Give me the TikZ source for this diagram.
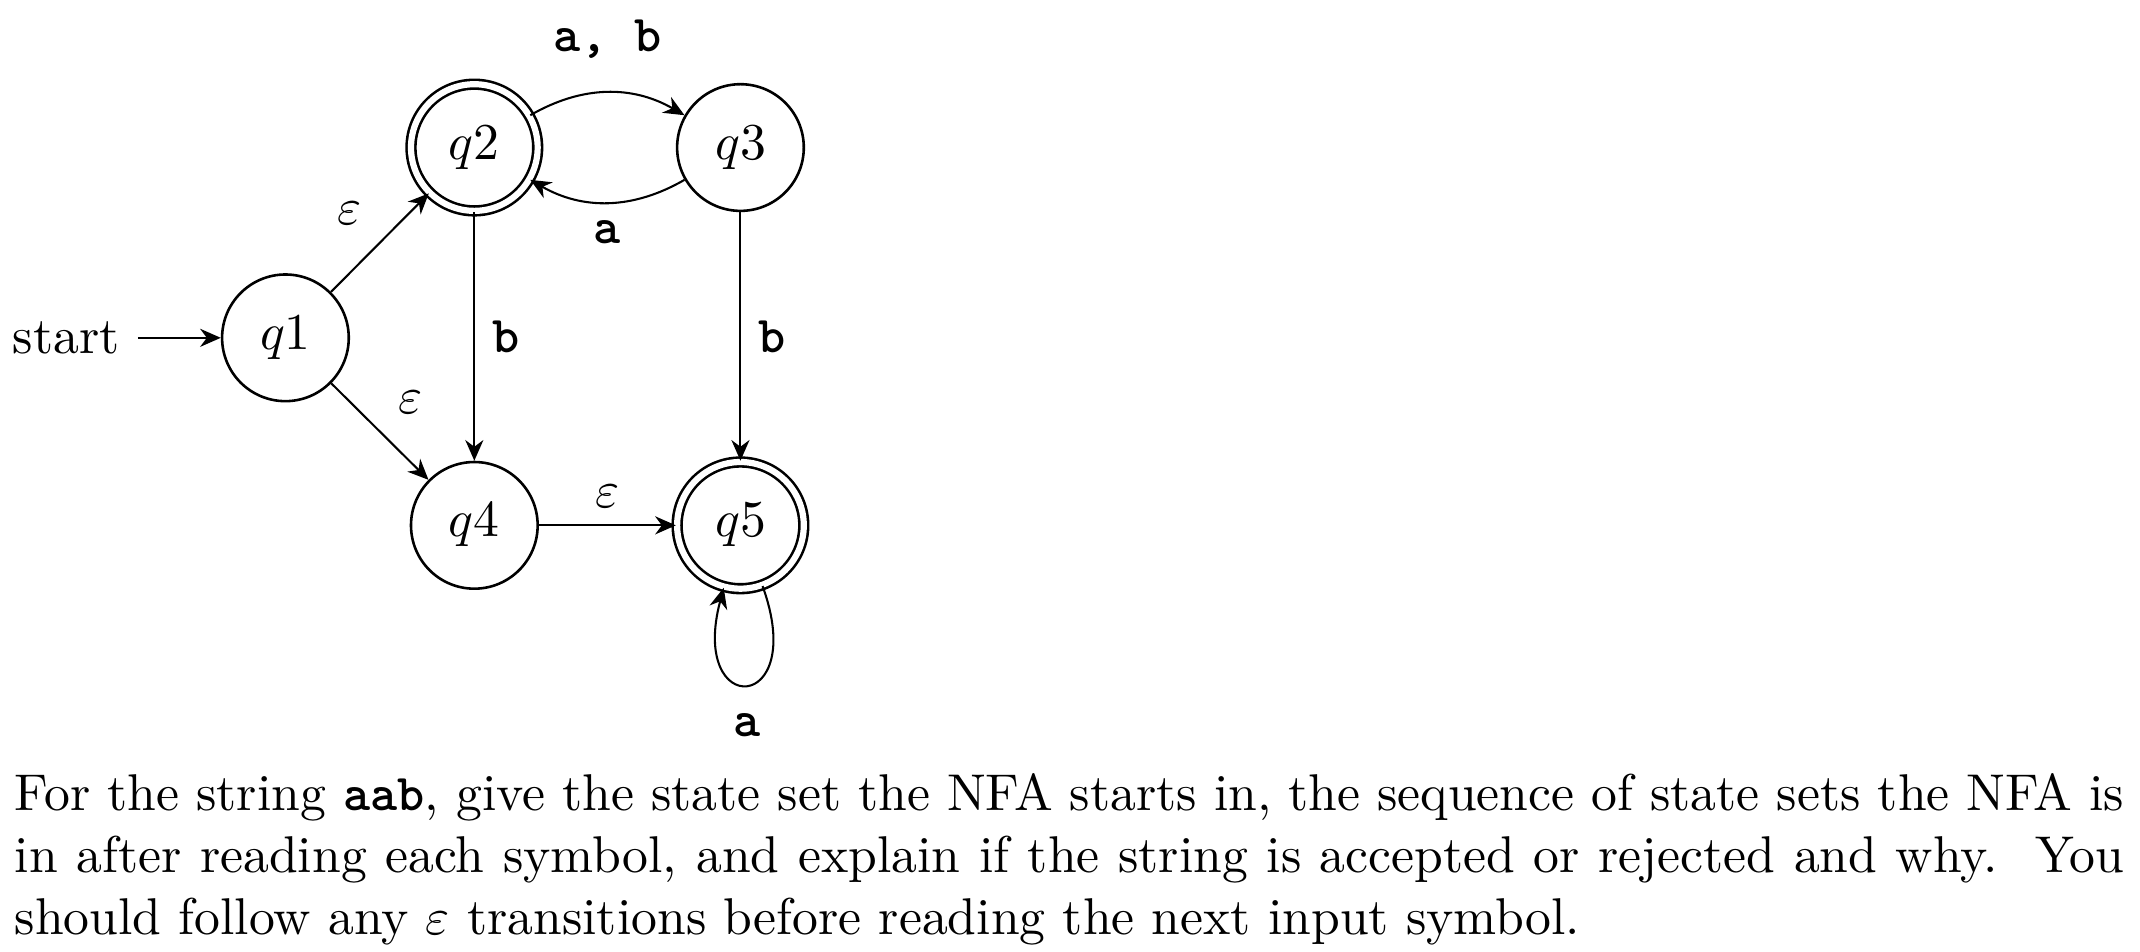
\documentclass[tikz,border=0pt]{standalone}
\usetikzlibrary{automata,arrows.meta}
\begin{document}
\begin{tikzpicture}[x=0.2667pt,y=-0.2667pt,
  st/.style={circle,draw,minimum size=24.5pt,inner sep=0pt,font=\normalsize,line width=0.5pt},
  acc/.style={st,double,double distance=1.2pt},
  tr/.style={-{Stealth[length=4pt,width=3.5pt]},line width=0.4pt},
  lb/.style={font=\normalsize\ttfamily\bfseries}]
\useasboundingbox (0,0) rectangle (1552,690);
\node[st] (q1) at (207,245) {$q1$};
\node[acc] (q2) at (344,107) {$q2$};
\node[st] (q3) at (537,107) {$q3$};
\node[st] (q4) at (344,381) {$q4$};
\node[acc] (q5) at (537,381) {$q5$};
\node[font=\normalsize,anchor=east] (start) at (100,245) {start};
\draw[tr] (start) -- (q1);
\draw[tr] (q1) -- node[pos=0.5,above left]{$\varepsilon$} (q2);
\draw[tr] (q1) -- node[pos=0.5,above right]{$\varepsilon$} (q4);
\draw[tr] (q2) to[bend left=30] node[above,lb,yshift=3pt]{a, b} (q3);
\draw[tr] (q3) to[bend left=30] node[below,lb]{a} (q2);
\draw[tr] (q2) -- node[right,lb]{b} (q4);
\draw[tr] (q3) -- node[right,lb]{b} (q5);
\draw[tr] (q4) -- node[above]{$\varepsilon$} (q5);
\draw[tr] (q5) to[out=-70,in=-105,looseness=9] node[below,lb,yshift=-2pt]{a} (q5);
\node[anchor=north west,text width=408pt,inner sep=0pt,align=justify,font=\fontsize{10pt}{12pt}\selectfont] (txt) at (10,560)
{For the string \texttt{\textbf{aab}}, give the state set the NFA starts in, the sequence of state sets the NFA is in after reading each symbol, and explain if the string is accepted or rejected and why.\ \ You should follow any $\varepsilon$ transitions before reading the next input symbol.};
\end{tikzpicture}
\end{document}
